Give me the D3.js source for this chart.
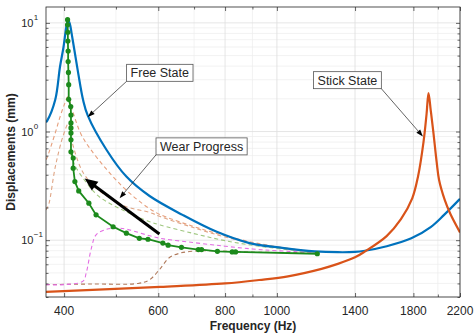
<!DOCTYPE html>
<html>
<head>
<meta charset="utf-8">
<script src="https://cdn.jsdelivr.net/npm/d3@7/dist/d3.min.js"></script>
<style>
  body { margin: 0; background: #fff; }
  svg text { font-family: "Liberation Sans", Arial, Helvetica, sans-serif; fill: #262626; }
</style>
</head>
<body>
<div id="graph"></div>
<script>
// free state FRF (blue)
var freeFreq = [370, 372, 385, 393, 399, 404, 407, 410, 413, 418, 425, 434, 443, 480, 523, 578, 666, 770, 889, 1023, 1177, 1300, 1400, 1461, 1605, 1784, 1939, 2052, 2200];
var freeDisp = [1.22, 1.26, 1.96, 3.95, 6.0, 9.3, 10.6, 9.8, 8.1, 5.66, 3.45, 1.96, 1.40, 0.68, 0.385, 0.255, 0.171, 0.12, 0.094, 0.085, 0.079, 0.0775, 0.078, 0.080, 0.088, 0.104, 0.132, 0.17, 0.24];

// stick state FRF (orange)
var stickFreq = [370, 605, 800, 926, 1049, 1212, 1300, 1400, 1460, 1604, 1706, 1791, 1837, 1880, 1905, 1921, 1940, 1961, 1990, 2010, 2060, 2110, 2200];
var stickDisp = [0.0335, 0.0372, 0.040, 0.043, 0.0465, 0.0545, 0.0605, 0.0695, 0.0785, 0.109, 0.156, 0.243, 0.39, 0.80, 1.45, 2.26, 1.55, 1.0, 0.52, 0.36, 0.235, 0.175, 0.118];

// wear progress: converged response points (green)
var wearFreq = [406, 406, 406.5, 406.5, 407, 407, 407.5, 408, 408, 411.6, 412, 412, 412, 412, 412, 412, 416, 416, 419, 426, 445, 459, 494, 523, 553, 574, 612, 626, 663, 713, 723, 774, 825, 837, 1190];
var wearDisp = [10.7, 9.6, 8.2, 6.8, 5.5, 4.4, 3.5, 2.7, 1.98, 1.70, 1.42, 1.20, 1.08, 0.97, 0.84, 0.65, 0.57, 0.46, 0.346, 0.284, 0.219, 0.171, 0.133, 0.116, 0.104, 0.102, 0.094, 0.090, 0.086, 0.082, 0.082, 0.079, 0.078, 0.078, 0.075];

// intermediate wear steps (dashed)
var stepAFreq = [370, 372, 385, 393, 400, 407, 414, 430, 447, 480, 515, 546, 578, 605, 694, 800, 926, 1092, 1190];
var stepADisp = [0.55, 0.58, 0.97, 1.36, 1.75, 2.1, 1.6, 0.95, 0.70, 0.45, 0.31, 0.24, 0.195, 0.172, 0.135, 0.11, 0.093, 0.082, 0.078];

var stepBFreq = [370, 374, 385, 398, 408, 414, 434, 460, 490, 520, 578, 605, 700, 800, 926, 1092, 1190];
var stepBDisp = [0.19, 0.21, 0.47, 0.9, 1.2, 0.8, 0.42, 0.30, 0.24, 0.205, 0.18, 0.165, 0.13, 0.107, 0.091, 0.081, 0.077];

var stepCFreq = [412, 418, 440, 466, 520, 578, 605, 700, 800, 926, 1092, 1190];
var stepCDisp = [0.62, 0.5, 0.34, 0.25, 0.185, 0.148, 0.138, 0.115, 0.099, 0.088, 0.08, 0.077];

var stepDFreq = [370, 400, 434, 440, 450, 459, 480, 503, 524, 600, 700, 800, 900, 1000, 1190];
var stepDDisp = [0.039, 0.039, 0.042, 0.050, 0.085, 0.112, 0.126, 0.129, 0.126, 0.105, 0.095, 0.088, 0.083, 0.080, 0.077];

var stepEFreq = [370, 450, 550, 577, 602, 629, 657, 694, 750, 850, 1000, 1190];
var stepEDisp = [0.039, 0.0395, 0.040, 0.043, 0.053, 0.069, 0.0757, 0.079, 0.08, 0.078, 0.077, 0.076];

// axis ticks
var xMajor = [400, 600, 800, 1000, 1400, 1800, 2200];
var xMinor = [500, 700, 900, 2000];
var yMajor = [0.1, 1, 10];
var yExp = ["-1", "0", "1"];
var yMinor = [0.03, 0.04, 0.05, 0.06, 0.07, 0.08, 0.09, 0.2, 0.3, 0.4, 0.5, 0.6, 0.7, 0.8, 0.9, 2, 3, 4, 5, 6, 7, 8, 9];

// text arrows: label position, arrow tip
var noteText = ["Free State", "Stick State", "Wear Progress"];
var noteAt = [[604, 3.47], [1355, 2.97], [723, 0.73]];
var noteTip = [[443, 1.36], [1875, 0.9], [508, 0.243]];
var noteCorner = ["bl", "br", "bl"];

// thick wear direction arrow
var wearArrow = [[603, 0.114], [437, 0.37]];

function createGraph() {
  var W = 474, H = 336;
  var left = 46, right = 460, top = 7, bottom = 297;

  var svg = d3.select("div#graph").append("svg")
    .attr("width", W)
    .attr("height", H);

  var x = d3.scaleLog().domain([370, 2200]).range([left, right]);
  var y = d3.scaleLog().domain([0.03, 14]).range([bottom, top]);

  svg.append("clipPath").attr("id", "plotclip")
    .append("rect").attr("x", left).attr("y", top).attr("width", right - left).attr("height", bottom - top);

  // grid lines
  var grid = svg.append("g");
  grid.selectAll("line.xminor").data(xMinor).enter().append("line")
    .attr("x1", d => x(d)).attr("x2", d => x(d)).attr("y1", top).attr("y2", bottom)
    .attr("stroke", "#ececec").attr("stroke-width", 0.7);
  grid.selectAll("line.yminor").data(yMinor).enter().append("line")
    .attr("y1", d => y(d)).attr("y2", d => y(d)).attr("x1", left).attr("x2", right)
    .attr("stroke", "#ececec").attr("stroke-width", 0.7);
  grid.selectAll("line.xmajor").data(xMajor).enter().append("line")
    .attr("x1", d => x(d)).attr("x2", d => x(d)).attr("y1", top).attr("y2", bottom)
    .attr("stroke", "#dedede").attr("stroke-width", 0.8);
  grid.selectAll("line.ymajor").data(yMajor).enter().append("line")
    .attr("y1", d => y(d)).attr("y2", d => y(d)).attr("x1", left).attr("x2", right)
    .attr("stroke", "#dedede").attr("stroke-width", 0.8);

  var plot = svg.append("g").attr("clip-path", "url(#plotclip)");

  function pairs(fs, vs) { return fs.map((f, i) => [f, vs[i]]); }
  var smooth = d3.line().x(d => x(d[0])).y(d => y(d[1])).curve(d3.curveCatmullRom.alpha(0.5));
  var straight = d3.line().x(d => x(d[0])).y(d => y(d[1]));

  // dashed wear steps
  var dashed = [
    [stepEFreq, stepEDisp, "#b07a5c"],
    [stepDFreq, stepDDisp, "#e36ee3"],
    [stepCFreq, stepCDisp, "#9fc77f"],
    [stepBFreq, stepBDisp, "#dfa585"],
    [stepAFreq, stepADisp, "#e6a07e"]
  ];
  dashed.forEach(function(s) {
    plot.append("path").datum(pairs(s[0], s[1]))
      .attr("d", smooth).attr("fill", "none")
      .attr("stroke", s[2]).attr("stroke-width", 1.1)
      .attr("stroke-dasharray", "4,3");
  });

  plot.append("path").datum(pairs(freeFreq, freeDisp))
    .attr("d", smooth).attr("fill", "none")
    .attr("stroke", "#0072BD").attr("stroke-width", 2.2);

  plot.append("path").datum(pairs(stickFreq, stickDisp))
    .attr("d", smooth).attr("fill", "none")
    .attr("stroke", "#D95319").attr("stroke-width", 2.2);

  var wear = pairs(wearFreq, wearDisp);
  plot.append("path").datum(wear)
    .attr("d", straight).attr("fill", "none")
    .attr("stroke", "#1c8a1c").attr("stroke-width", 1.8);
  plot.selectAll("circle.wear").data(wear).enter().append("circle")
    .attr("cx", d => x(d[0])).attr("cy", d => y(d[1])).attr("r", 2.6)
    .attr("fill", "#1c8a1c");

  // axes box and ticks
  var ax = svg.append("g");
  function tickAxis(axis, tr, vals, size) {
    var g = ax.append("g").attr("transform", tr)
      .call(axis.tickValues(vals).tickSize(size).tickFormat(""));
    g.select(".domain").remove();
    g.selectAll("line").attr("stroke", "#262626").attr("stroke-width", 0.7);
    return g;
  }
  tickAxis(d3.axisBottom(x), "translate(0," + bottom + ")", xMajor, -4);
  tickAxis(d3.axisBottom(x), "translate(0," + bottom + ")", xMinor, -2.5);
  tickAxis(d3.axisTop(x), "translate(0," + top + ")", xMajor, -4);
  tickAxis(d3.axisTop(x), "translate(0," + top + ")", xMinor, -2.5);
  tickAxis(d3.axisLeft(y), "translate(" + left + ",0)", yMajor, -4);
  tickAxis(d3.axisLeft(y), "translate(" + left + ",0)", yMinor, -2.5);
  tickAxis(d3.axisRight(y), "translate(" + right + ",0)", yMajor, -4);
  tickAxis(d3.axisRight(y), "translate(" + right + ",0)", yMinor, -2.5);

  ax.append("rect").attr("x", left).attr("y", top)
    .attr("width", right - left).attr("height", bottom - top)
    .attr("fill", "none").attr("stroke", "#262626").attr("stroke-width", 0.8);

  // tick labels
  ax.selectAll("text.xl").data(xMajor).enter().append("text")
    .attr("x", d => x(d)).attr("y", bottom + 18)
    .attr("text-anchor", "middle").attr("font-size", 12)
    .text(d => d);

  yMajor.forEach(function(v, i) {
    ax.append("text").attr("x", 33.5).attr("y", y(v) + 4)
      .attr("text-anchor", "end").attr("font-size", 11).text("10");
    ax.append("text").attr("x", 33.8).attr("y", y(v) - 3)
      .attr("text-anchor", "start").attr("font-size", 8).text(yExp[i].replace("-", "\u2212"));
  });

  // axis titles
  svg.append("text").attr("x", (left + right) / 2).attr("y", 330)
    .attr("text-anchor", "middle").attr("font-size", 12).attr("font-weight", "bold")
    .text("Frequency (Hz)");
  svg.append("text").attr("transform", "translate(15," + ((top + bottom) / 2) + ") rotate(-90)")
    .attr("text-anchor", "middle").attr("font-size", 12).attr("font-weight", "bold")
    .text("Displacements (mm)");

  // arrowhead helper, returns the point where the shaft should stop
  function arrowHead(g, p0, p1, len, wid) {
    var dx = p1[0] - p0[0], dy = p1[1] - p0[1];
    var L = Math.sqrt(dx * dx + dy * dy), ux = dx / L, uy = dy / L;
    var bx = p1[0] - ux * len, by = p1[1] - uy * len;
    g.append("path")
      .attr("d", "M" + p1[0] + "," + p1[1] +
        "L" + (bx - uy * wid / 2) + "," + (by + ux * wid / 2) +
        "L" + (bx + uy * wid / 2) + "," + (by - ux * wid / 2) + "Z")
      .attr("fill", "#000");
    return [bx + ux * 2, by + uy * 2];
  }

  // wear direction arrow
  var a0 = [x(wearArrow[0][0]), y(wearArrow[0][1])], a1 = [x(wearArrow[1][0]), y(wearArrow[1][1])];
  var ag = svg.append("g");
  var ab = arrowHead(ag, a0, a1, 13, 11);
  ag.append("line").attr("x1", a0[0]).attr("y1", a0[1]).attr("x2", ab[0]).attr("y2", ab[1])
    .attr("stroke", "#000").attr("stroke-width", 3);

  // text arrows with boxed labels
  noteText.forEach(function(t, i) {
    var g = svg.append("g");
    var cx = x(noteAt[i][0]), cy = y(noteAt[i][1]);
    var label = g.append("text").attr("x", cx).attr("y", cy + 4.5)
      .attr("text-anchor", "middle").attr("font-size", 12.5).text(t);
    var bb = label.node().getBBox();
    var bw = bb.width + 8, bh = 17;
    var bx = cx - bw / 2, by = cy - bh / 2;
    var start = noteCorner[i] == "bl" ? [bx, by + bh] : [bx + bw, by + bh];
    var tip = [x(noteTip[i][0]), y(noteTip[i][1])];
    var base = arrowHead(g, start, tip, 7, 5);
    g.append("line").attr("x1", start[0]).attr("y1", start[1]).attr("x2", base[0]).attr("y2", base[1])
      .attr("stroke", "#222").attr("stroke-width", 0.7);
    g.insert("rect", "text").attr("x", bx).attr("y", by).attr("width", bw).attr("height", bh)
      .attr("fill", "#fff").attr("stroke", "#555").attr("stroke-width", 0.8);
  });
}

createGraph();
</script>
</body>
</html>
